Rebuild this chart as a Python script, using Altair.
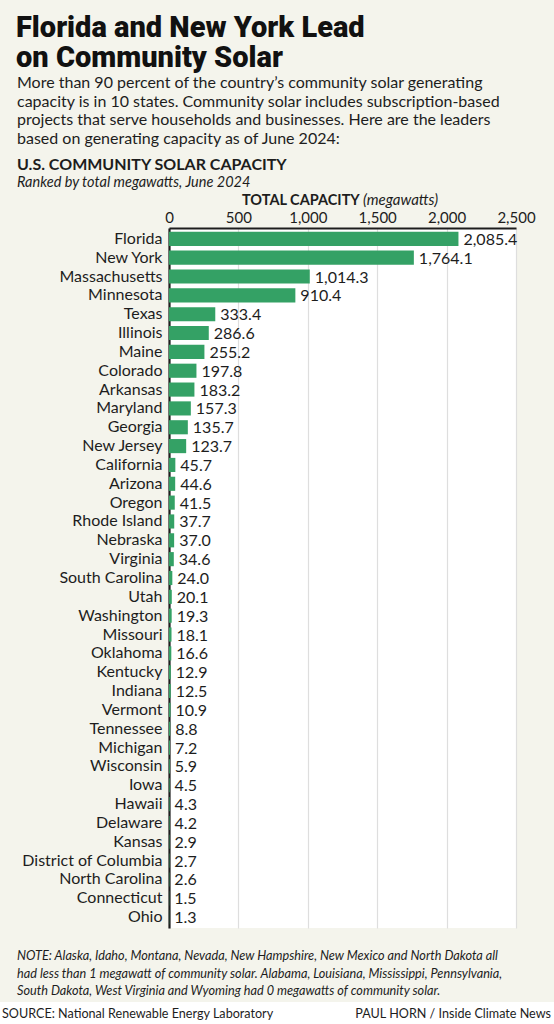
import altair as alt
import pandas as pd

# U.S. community solar capacity by state, June 2024 (megawatts)
states = [
    "Florida", "New York", "Massachusetts", "Minnesota", "Texas", "Illinois",
    "Maine", "Colorado", "Arkansas", "Maryland", "Georgia", "New Jersey",
    "California", "Arizona", "Oregon", "Rhode Island", "Nebraska", "Virginia",
    "South Carolina", "Utah", "Washington", "Missouri", "Oklahoma", "Kentucky",
    "Indiana", "Vermont", "Tennessee", "Michigan", "Wisconsin", "Iowa",
    "Hawaii", "Delaware", "Kansas", "District of Columbia", "North Carolina",
    "Connecticut", "Ohio",
]
capacity = [
    2085.4, 1764.1, 1014.3, 910.4, 333.4, 286.6,
    255.2, 197.8, 183.2, 157.3, 135.7, 123.7,
    45.7, 44.6, 41.5, 37.7, 37.0, 34.6,
    24.0, 20.1, 19.3, 18.1, 16.6, 12.9,
    12.5, 10.9, 8.8, 7.2, 5.9, 4.5,
    4.3, 4.2, 2.9, 2.7, 2.6,
    1.5, 1.3,
]
x_ticks = [0, 500, 1000, 1500, 2000, 2500]

title_lines = ["Florida and New York Lead", "on Community Solar"]
intro_lines = [
    "More than 90 percent of the country\u2019s community solar generating",
    "capacity is in 10 states. Community solar includes subscription-based",
    "projects that serve households and businesses. Here are the leaders",
    "based on generating capacity as of June 2024:",
]
chart_heading = "U.S. COMMUNITY SOLAR CAPACITY"
chart_subheading = "Ranked by total megawatts, June 2024"
axis_heading = "TOTAL CAPACITY"
axis_unit = "(megawatts)"
note_lines = [
    "NOTE: Alaska, Idaho, Montana, Nevada, New Hampshire, New Mexico and North Dakota all",
    "had less than 1 megawatt of community solar. Alabama, Louisiana, Mississippi, Pennsylvania,",
    "South Dakota, West Virginia and Wyoming had 0 megawatts of community solar.",
]
source_text = "SOURCE: National Renewable Energy Laboratory"
credit_text = "PAUL HORN / Inside Climate News"

df = pd.DataFrame({"state": states, "capacity": capacity})

# Layout (pixels): plot area origin and size inside the 554x1024 page
PAD_L, PAD_T = 169, 228
PLOT_W, PLOT_H = 347, 700
PAGE_W, PAGE_H = 554, 1024

BG = "#f4f4ec"
GREEN = "#34a165"
INK = "#1d1d1d"
BODY_FONT = "Lato"
HEAD_FONT = "Roboto"

one_row = pd.DataFrame({"_": [0]})


def text_at(text, x, y, size, weight="normal", style="normal",
            font=BODY_FONT, align="left", color=INK):
    """A single line of text placed at page coordinates (x, y = baseline)."""
    return alt.Chart(one_row).mark_text(
        text=text, align=align, baseline="alphabetic", font=font,
        fontSize=size, fontWeight=weight, fontStyle=style, color=color,
    ).encode(x=alt.value(x - PAD_L), y=alt.value(y - PAD_T))


x_enc = alt.X(
    "capacity:Q",
    scale=alt.Scale(domain=[0, 2500], nice=False),
    axis=alt.Axis(
        orient="top", values=x_ticks, format=",d", title=None,
        grid=True, gridColor="#dedede", gridWidth=1.2,
        ticks=False, domainColor=INK, domainWidth=2.2,
        labelFont=BODY_FONT, labelFontSize=15, labelColor=INK,
        labelPadding=3, labelFlush=False, labelOverlap=False,
    ),
)
y_enc = alt.Y(
    "state:N", sort=states,
    scale=alt.Scale(paddingInner=0.25, paddingOuter=0.2),
    axis=alt.Axis(
        title=None, ticks=False, domainColor=INK, domainWidth=2.2,
        labelFont=BODY_FONT, labelFontSize=16, labelColor=INK,
        labelPadding=7, labelLimit=200,
    ),
)

bars = alt.Chart(df).mark_bar(color=GREEN).encode(x=x_enc, y=y_enc)
values = alt.Chart(df).mark_text(
    align="left", baseline="middle", dx=5, dy=1,
    font=BODY_FONT, fontSize=16, color=INK,
).encode(
    x="capacity:Q",
    y=alt.Y("state:N", sort=states),
    text=alt.Text("capacity:Q", format=",.1f"),
)

# White strip behind the source line
footer_strip = alt.Chart(one_row).mark_rect(color="white").encode(
    x=alt.value(-PAD_L), x2=alt.value(PAGE_W - PAD_L),
    y=alt.value(1002 - PAD_T), y2=alt.value(PAGE_H - PAD_T),
)

texts = []
for i, line in enumerate(title_lines):
    texts.append(text_at(line, 16, 37 + 30 * i, 29, weight=900, font=HEAD_FONT, color="#111"))
for i, line in enumerate(intro_lines):
    texts.append(text_at(line, 17, 88 + 18.7 * i, 16))
texts.append(text_at(chart_heading, 17, 170, 16, weight="bold"))
texts.append(text_at(chart_subheading, 17, 187, 14.5, style="italic"))
texts.append(text_at(axis_heading, 242, 205, 14.5, weight="bold"))
texts.append(text_at(axis_unit, 363, 205, 15, style="italic"))
for i, line in enumerate(note_lines):
    texts.append(text_at(line, 17, 960 + 17.5 * i, 12.7, style="italic"))
texts.append(text_at(source_text, 2, 1018, 12.6))
texts.append(text_at(credit_text, 551, 1018, 12.6, align="right"))

chart = alt.layer(footer_strip, bars, values, *texts).properties(
    width=PLOT_W, height=PLOT_H,
    autosize=alt.AutoSizeParams(type="none"),
    padding={"left": PAD_L, "top": PAD_T,
             "right": PAGE_W - PAD_L - PLOT_W,
             "bottom": PAGE_H - PAD_T - PLOT_H},
    background=BG,
).configure_view(fill="white", stroke=None)

chart.save("out.html", embed_options={"renderer": "svg", "actions": False})
